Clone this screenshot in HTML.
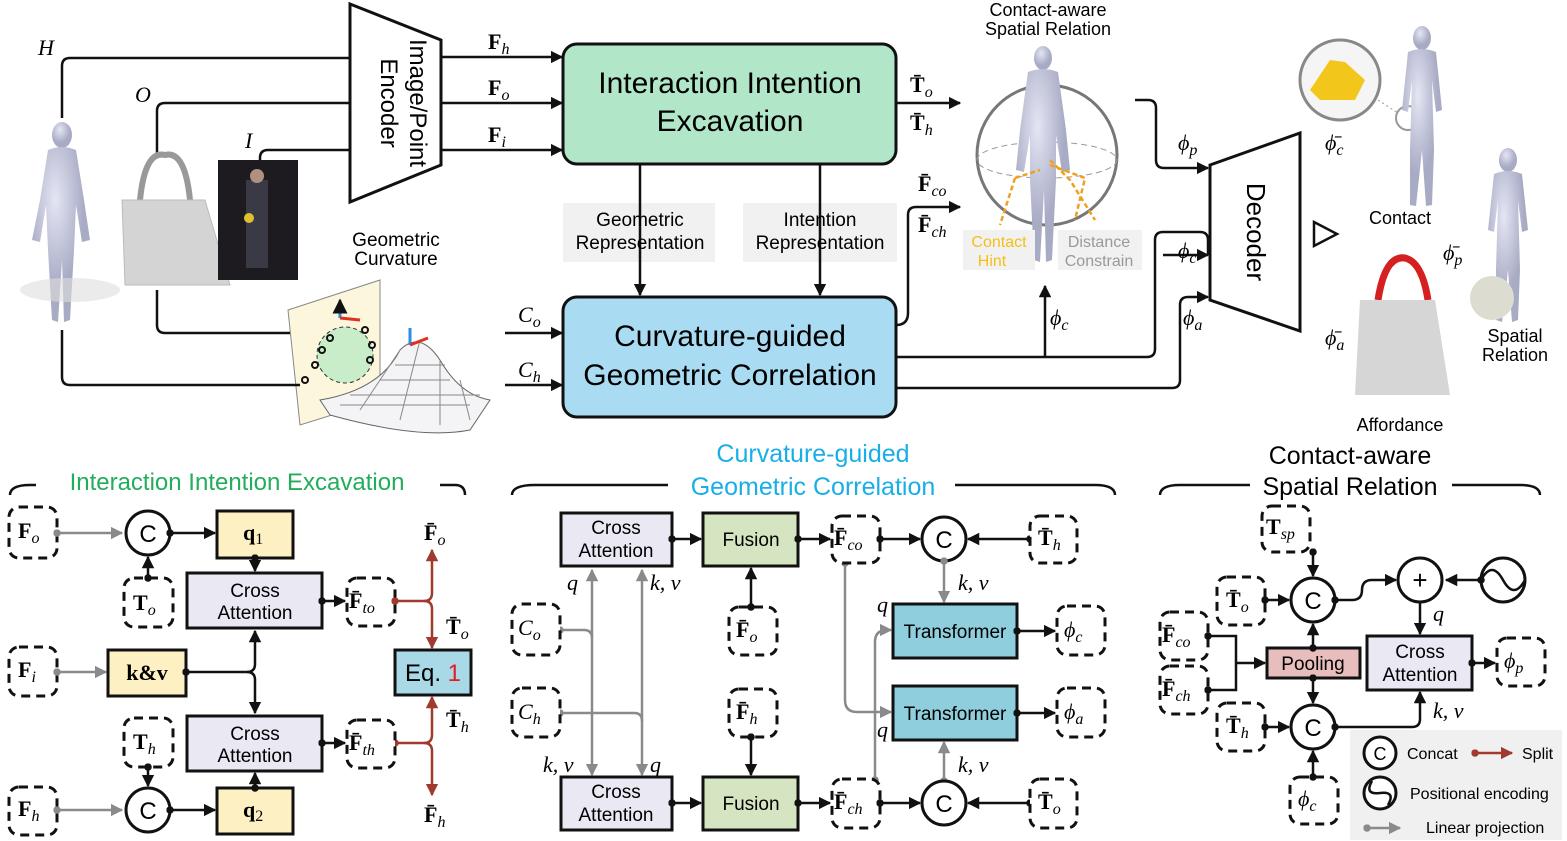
<!DOCTYPE html>
<html><head><meta charset="utf-8"><style>
html,body{margin:0;padding:0;background:#fff}
svg{display:block}
text{font-family:"Liberation Sans","DejaVu Sans",sans-serif}
.m{font-family:"Liberation Serif",serif;font-size:22px}
.b{font-weight:bold}
.s{font-style:italic;font-size:16px}
.t{font-size:19px;text-anchor:middle}
.bx{stroke:#111;stroke-width:3}
.dsh{fill:#fff;stroke:#111;stroke-width:3;stroke-dasharray:9 6}
.k{stroke:#111;stroke-width:2.5;fill:none}
.g{stroke:#8a8a8a;stroke-width:2.5;fill:none}
.r{stroke:#a0392e;stroke-width:2.5;fill:none}
</style></head><body>
<svg width="1567" height="841" viewBox="0 0 1567 841" xmlns="http://www.w3.org/2000/svg">
<defs>
<marker id="a" viewBox="0 0 10 10" refX="9" refY="5" markerWidth="5" markerHeight="5" orient="auto-start-reverse"><path d="M0,0L10,5L0,10z" fill="#111"/></marker>
<marker id="ag" viewBox="0 0 10 10" refX="9" refY="5" markerWidth="5" markerHeight="5" orient="auto-start-reverse"><path d="M0,0L10,5L0,10z" fill="#8a8a8a"/></marker>
<marker id="ar" viewBox="0 0 10 10" refX="9" refY="5" markerWidth="5" markerHeight="5" orient="auto-start-reverse"><path d="M0,0L10,5L0,10z" fill="#a0392e"/></marker>
<marker id="d" viewBox="0 0 10 10" refX="5" refY="5" markerWidth="3" markerHeight="3"><circle cx="5" cy="5" r="5" fill="#111"/></marker>
<marker id="dg" viewBox="0 0 10 10" refX="5" refY="5" markerWidth="3" markerHeight="3"><circle cx="5" cy="5" r="5" fill="#8a8a8a"/></marker>
<marker id="dr" viewBox="0 0 10 10" refX="5" refY="5" markerWidth="3" markerHeight="3"><circle cx="5" cy="5" r="5" fill="#a0392e"/></marker>
<radialGradient id="hum" cx="40%" cy="30%"><stop offset="0" stop-color="#e4e6f4"/><stop offset="1" stop-color="#a8abc4"/></radialGradient>
</defs>

<!-- ===== TOP ===== -->
<path class="k" d="M62,118V66Q62,58 70,58H350"/>
<path class="k" d="M157,155V111Q157,103 165,103H350"/>
<path class="k" d="M260,160V158Q260,150 268,150H350"/>
<text class="m" x="38" y="55" font-style="italic">H</text>
<text class="m" x="135" y="102" font-style="italic">O</text>
<text class="m" x="245" y="148" font-style="italic">I</text>
<g fill="url(#hum)">
<ellipse cx="62" cy="135" rx="10" ry="13"/>
<path d="M48,150Q62,144 76,150L84,200L90,240L82,242L76,205L74,250L70,320L64,322L62,260L58,322L52,320L48,250L46,205L40,242L32,240L40,200Z"/>
</g>
<ellipse cx="70" cy="290" rx="50" ry="12" fill="#ddd" opacity=".6"/>
<path d="M140,200Q145,150 165,155Q185,150 190,200" stroke="#999" stroke-width="6" fill="none"/>
<path d="M122,200H205L230,285H125Z" fill="#d4d4d4" stroke="#bbb"/>
<rect x="218" y="160" width="80" height="120" fill="#1d1b1f"/>
<rect x="246" y="180" width="22" height="88" fill="#3a3946"/>
<circle cx="257" cy="176" r="7" fill="#b09080"/>
<circle cx="249" cy="218" r="5" fill="#e0c030"/>
<path d="M350,4L441,40V165L350,202Z" fill="#fff" stroke="#111" stroke-width="3"/>
<text x="0" y="0" font-size="24" text-anchor="middle" transform="translate(410,103) rotate(90)">Image/Point</text>
<text x="0" y="0" font-size="24" text-anchor="middle" transform="translate(381,103) rotate(90)">Encoder</text>
<path class="k" d="M441,57H562" marker-end="url(#a)"/>
<path class="k" d="M441,103H562" marker-end="url(#a)"/>
<path class="k" d="M441,150H562" marker-end="url(#a)"/>
<text class="m" x="488" y="49"><tspan class="b">F</tspan><tspan class="s" dy="5">h</tspan></text>
<text class="m" x="488" y="95"><tspan class="b">F</tspan><tspan class="s" dy="5">o</tspan></text>
<text class="m" x="488" y="142"><tspan class="b">F</tspan><tspan class="s" dy="5">i</tspan></text>
<rect x="563" y="44" width="333" height="120" rx="14" fill="#b1e6c9" class="bx"/>
<text x="730" y="93" font-size="30" text-anchor="middle">Interaction Intention</text>
<text x="730" y="131" font-size="30" text-anchor="middle">Excavation</text>
<rect x="563" y="203" width="152" height="59" fill="#f1f1f1"/>
<rect x="743" y="203" width="154" height="59" fill="#f1f1f1"/>
<path class="k" d="M640,164V295" marker-end="url(#a)"/>
<path class="k" d="M820,164V295" marker-end="url(#a)"/>
<text class="t" x="640" y="226">Geometric</text><text class="t" x="640" y="249">Representation</text>
<text class="t" x="820" y="226">Intention</text><text class="t" x="820" y="249">Representation</text>
<text class="t" x="396" y="246">Geometric</text><text class="t" x="396" y="265">Curvature</text>
<path d="M288,310L380,280V400L300,425Z" fill="#fbf6dc" stroke="#888"/>
<circle cx="345" cy="355" r="28" fill="#c9ecc9" stroke="#333" stroke-dasharray="4 3"/>
<g fill="none" stroke="#111" stroke-width="2"><circle cx="305" cy="380" r="3"/><circle cx="315" cy="365" r="3"/><circle cx="322" cy="350" r="3"/><circle cx="330" cy="338" r="3"/><circle cx="365" cy="330" r="3"/><circle cx="372" cy="345" r="3"/><circle cx="370" cy="360" r="3"/></g>
<path d="M340,318V300" stroke="#2a8ee6" stroke-width="3" marker-end="url(#a)"/>
<path d="M340,318L360,320" stroke="#e03020" stroke-width="3"/>
<path d="M320,400Q380,390 400,350Q420,330 440,360Q460,395 490,400L470,430Q420,440 330,415Z" fill="#f4f4f6" stroke="#666"/>
<g stroke="#888" stroke-width="1"><path d="M340,405L470,405M350,395L480,395M380,380L450,380M395,365L445,365"/><path d="M360,410L400,350M400,420L420,340M440,425L440,360M470,420L460,380"/></g>
<path d="M410,345V328" stroke="#2a8ee6" stroke-width="3"/><path d="M410,345L428,338" stroke="#e03020" stroke-width="3"/>
<path class="k" d="M157,290V325Q157,333 165,333H290"/>
<path class="k" d="M62,330V377Q62,385 70,385H300"/>
<path class="k" d="M505,333H562" marker-end="url(#a)"/>
<path class="k" d="M505,385H562" marker-end="url(#a)"/>
<text class="m" x="518" y="322" font-style="italic">C<tspan class="s" dy="5">o</tspan></text>
<text class="m" x="518" y="377" font-style="italic">C<tspan class="s" dy="5">h</tspan></text>
<rect x="563" y="297" width="333" height="120" rx="14" fill="#a9dcf2" class="bx"/>
<text x="730" y="346" font-size="30" text-anchor="middle">Curvature-guided</text>
<text x="730" y="385" font-size="30" text-anchor="middle">Geometric Correlation</text>
<path class="k" d="M896,103H960" marker-end="url(#a)"/>
<text class="m" x="910" y="92"><tspan class="b">T̄</tspan><tspan class="s" dy="5">o</tspan></text>
<text class="m" x="910" y="130"><tspan class="b">T̄</tspan><tspan class="s" dy="5">h</tspan></text>
<path class="k" d="M896,325Q908,325 908,313V215Q908,207 916,207H960" marker-end="url(#a)"/>
<text class="m" x="918" y="191"><tspan class="b">F̄</tspan><tspan class="s" dy="5">co</tspan></text>
<text class="m" x="918" y="232"><tspan class="b">F̄</tspan><tspan class="s" dy="5">ch</tspan></text>
<text x="1048" y="16" font-size="18" text-anchor="middle">Contact-aware</text>
<text x="1048" y="35" font-size="18" text-anchor="middle">Spatial Relation</text>
<circle cx="1047" cy="155" r="70" fill="none" stroke="#777" stroke-width="3"/>
<ellipse cx="1047" cy="160" rx="70" ry="18" fill="none" stroke="#999" stroke-dasharray="6 4"/>
<g fill="url(#hum)"><ellipse cx="1043" cy="58" rx="9" ry="12"/><path d="M1028,72Q1043,66 1058,72L1066,130L1070,170L1062,172L1056,135L1056,180L1052,260L1046,262L1044,190L1040,262L1034,260L1030,180L1030,135L1024,172L1016,170L1020,130Z"/></g>
<path d="M1015,178L1000,225M1015,178L1040,170M1050,160L1070,180L1095,220M1050,165L1085,178L1075,220" stroke="#f0a020" stroke-width="2.5" fill="none" stroke-dasharray="5 3"/>
<rect x="963" y="230" width="72" height="40" fill="#f1f1f1"/>
<rect x="1058" y="230" width="84" height="40" fill="#f1f1f1"/>
<text x="999" y="247" font-size="16" text-anchor="middle" fill="#f3c01a">Contact</text><text x="992" y="266" font-size="16" text-anchor="middle" fill="#f3c01a">Hint</text>
<text x="1099" y="247" font-size="16" text-anchor="middle" fill="#999">Distance</text><text x="1099" y="266" font-size="16" text-anchor="middle" fill="#999">Constrain</text>
<path class="k" d="M896,357H1147Q1155,357 1155,349V240Q1155,232 1163,232H1200Q1208,232 1208,240V255" />
<path class="k" d="M1045,357V286" marker-end="url(#a)"/>
<text class="m" x="1050" y="325" font-style="italic">ϕ<tspan class="s" dy="5">c</tspan></text>
<path class="k" d="M896,388H1172Q1180,388 1180,380V305Q1180,297 1188,297H1208" marker-end="url(#a)"/>
<path class="k" d="M1135,100H1148Q1156,100 1156,108V160Q1156,168 1164,168H1208" marker-end="url(#a)"/>
<path class="k" d="M1163,255H1208" marker-end="url(#a)"/>
<text class="m" x="1178" y="150" font-style="italic">ϕ<tspan class="s" dy="5">p</tspan></text>
<text class="m" x="1178" y="258" font-style="italic">ϕ<tspan class="s" dy="5">c</tspan></text>
<text class="m" x="1183" y="325" font-style="italic">ϕ<tspan class="s" dy="5">a</tspan></text>
<path d="M1210,165L1300,133V331L1210,300Z" fill="#fff" stroke="#111" stroke-width="3"/>
<text x="0" y="0" font-size="26" text-anchor="middle" transform="translate(1247,232) rotate(90)">Decoder</text>
<path d="M1314,222L1337,234L1314,246Z" fill="none" stroke="#111" stroke-width="2.5"/>
<circle cx="1340" cy="80" r="40" fill="#f5f5f5" stroke="#888" stroke-width="3"/>
<path d="M1310,90L1330,60L1345,62L1365,80L1355,100L1320,100Z" fill="#f2c61a"/>
<circle cx="1408" cy="118" r="12" fill="none" stroke="#999" stroke-width="2"/>
<path d="M1378,100L1398,113" stroke="#999" stroke-dasharray="2 3"/>
<g fill="url(#hum)"><ellipse cx="1422" cy="38" rx="9" ry="12"/><path d="M1408,52Q1422,46 1436,52L1442,110L1436,112L1432,80L1434,150L1432,205L1426,206L1422,150L1416,206L1410,205L1410,150L1412,80L1408,112L1402,110Z"/></g>
<text x="1400" y="224" font-size="18" text-anchor="middle">Contact</text>
<text class="m" x="1325" y="150" font-style="italic">ϕ̄<tspan class="s" dy="5">c</tspan></text>
<g fill="url(#hum)"><ellipse cx="1508" cy="160" rx="9" ry="12"/><path d="M1494,174Q1508,168 1522,174L1528,230L1522,232L1518,200L1520,270L1518,320L1512,322L1508,270L1502,322L1496,320L1496,270L1498,200L1494,232L1488,230Z"/></g>
<circle cx="1492" cy="298" r="22" fill="#dcdcd0"/>
<text x="1515" y="342" font-size="18" text-anchor="middle">Spatial</text><text x="1515" y="361" font-size="18" text-anchor="middle">Relation</text>
<text class="m" x="1443" y="260" font-style="italic">ϕ̄<tspan class="s" dy="5">p</tspan></text>
<path d="M1378,300Q1385,255 1405,258Q1422,262 1428,300" stroke="#d42020" stroke-width="7" fill="none"/>
<path d="M1360,300H1435L1450,395H1355Z" fill="#d6d6d6"/>
<text class="m" x="1325" y="345" font-style="italic">ϕ̄<tspan class="s" dy="5">a</tspan></text>
<text x="1400" y="431" font-size="18" text-anchor="middle">Affordance</text>

<!-- ===== BOTTOM TITLES ===== -->
<text x="237" y="490" font-size="24" text-anchor="middle" fill="#22ad5c">Interaction Intention Excavation</text>
<path class="k" d="M10,495Q10,485 30,485H36M440,485H455Q465,485 465,495"/>
<text x="813" y="462" font-size="25" text-anchor="middle" fill="#19aee6">Curvature-guided</text>
<text x="813" y="495" font-size="25" text-anchor="middle" fill="#19aee6">Geometric Correlation</text>
<path class="k" d="M512,495Q512,485 535,485H668M955,485H1095Q1115,485 1115,495"/>
<text x="1350" y="464" font-size="25" text-anchor="middle">Contact-aware</text>
<text x="1350" y="495" font-size="25" text-anchor="middle">Spatial Relation</text>
<path class="k" d="M1160,495Q1160,485 1180,485H1250M1452,485H1520Q1540,485 1540,495"/>

<!-- ===== LEFT SECTION ===== -->
<rect class="dsh" x="9" y="507" width="48" height="51" rx="10"/>
<text class="m" x="18" y="538"><tspan class="b">F</tspan><tspan class="s" dy="5">o</tspan></text>
<path class="g" d="M57,533H122" marker-start="url(#dg)" marker-end="url(#ag)"/>
<circle cx="148" cy="533" r="22" fill="#fff" class="bx"/><text x="148" y="542" font-size="24" text-anchor="middle">C</text>
<path class="k" d="M170,533H215" marker-start="url(#d)" marker-end="url(#a)"/>
<rect x="217" y="511" width="76" height="47" fill="#fdf0c3" class="bx"/>
<text class="m" x="243" y="540"><tspan class="b">q</tspan><tspan font-size="16" dy="4">1</tspan></text>
<path class="k" d="M255,558V571" marker-start="url(#d)" marker-end="url(#a)"/>
<rect class="dsh" x="124" y="578" width="49" height="49" rx="10"/>
<text class="m" x="133" y="610"><tspan class="b">T</tspan><tspan class="s" dy="5">o</tspan></text>
<path class="k" d="M148,578V557" marker-start="url(#d)" marker-end="url(#a)"/>
<rect x="187" y="573" width="135" height="55" fill="#e9e8f3" class="bx"/>
<text class="t" x="255" y="597">Cross</text><text class="t" x="255" y="619">Attention</text>
<path class="k" d="M322,601H345" marker-start="url(#d)" marker-end="url(#a)"/>
<rect class="dsh" x="347" y="578" width="48" height="48" rx="10"/>
<text class="m" x="349" y="608"><tspan class="b">F̄</tspan><tspan class="s" dy="5">to</tspan></text>
<path class="r" d="M395,601H424Q432,601 432,593V550" marker-start="url(#dr)" marker-end="url(#ar)"/>
<path class="r" d="M424,601Q432,601 432,609V648" marker-end="url(#ar)"/>
<text class="m" x="424" y="540"><tspan class="b">F̄</tspan><tspan class="s" dy="5">o</tspan></text>
<text class="m" x="446" y="634"><tspan class="b">T̄</tspan><tspan class="s" dy="5">o</tspan></text>
<rect x="395" y="650" width="76" height="45" fill="#a9d8e7" class="bx"/>
<text x="433" y="681" font-family="Liberation Serif,serif" font-size="24" text-anchor="middle">Eq. <tspan fill="#e02020">1</tspan></text>
<path class="r" d="M395,743H424Q432,743 432,735V697" marker-start="url(#dr)" marker-end="url(#ar)"/>
<path class="r" d="M424,743Q432,743 432,751V795" marker-end="url(#ar)"/>
<text class="m" x="446" y="727"><tspan class="b">T̄</tspan><tspan class="s" dy="5">h</tspan></text>
<text class="m" x="424" y="822"><tspan class="b">F̄</tspan><tspan class="s" dy="5">h</tspan></text>

<rect class="dsh" x="9" y="647" width="48" height="49" rx="10"/>
<text class="m" x="18" y="677"><tspan class="b">F</tspan><tspan class="s" dy="5">i</tspan></text>
<path class="g" d="M57,672H106" marker-start="url(#dg)" marker-end="url(#ag)"/>
<rect x="108" y="650" width="78" height="46" fill="#fdf0c3" class="bx"/>
<text class="m b" x="147" y="680" text-anchor="middle">k&amp;v</text>
<path class="k" d="M186,672H247Q255,672 255,664V631" marker-start="url(#d)" marker-end="url(#a)"/>
<path class="k" d="M247,672Q255,672 255,680V713" marker-end="url(#a)"/>
<rect x="187" y="716" width="135" height="55" fill="#e9e8f3" class="bx"/>
<text class="t" x="255" y="740">Cross</text><text class="t" x="255" y="762">Attention</text>
<path class="k" d="M322,743H345" marker-start="url(#d)" marker-end="url(#a)"/>
<rect class="dsh" x="347" y="720" width="48" height="48" rx="10"/>
<text class="m" x="349" y="750"><tspan class="b">F̄</tspan><tspan class="s" dy="5">th</tspan></text>
<rect class="dsh" x="124" y="718" width="49" height="49" rx="10"/>
<text class="m" x="133" y="749"><tspan class="b">T</tspan><tspan class="s" dy="5">h</tspan></text>
<path class="k" d="M148,767V786" marker-start="url(#d)" marker-end="url(#a)"/>
<circle cx="148" cy="810" r="22" fill="#fff" class="bx"/><text x="148" y="819" font-size="24" text-anchor="middle">C</text>
<rect class="dsh" x="9" y="787" width="48" height="48" rx="10"/>
<text class="m" x="18" y="816"><tspan class="b">F</tspan><tspan class="s" dy="5">h</tspan></text>
<path class="g" d="M57,810H122" marker-start="url(#dg)" marker-end="url(#ag)"/>
<path class="k" d="M170,810H215" marker-start="url(#d)" marker-end="url(#a)"/>
<rect x="217" y="788" width="76" height="46" fill="#fdf0c3" class="bx"/>
<text class="m" x="243" y="817"><tspan class="b">q</tspan><tspan font-size="16" dy="4">2</tspan></text>
<path class="k" d="M255,788V773" marker-start="url(#d)" marker-end="url(#a)"/>

<!-- ===== MIDDLE SECTION ===== -->
<path class="g" d="M592,570V775" marker-start="url(#ag)" marker-end="url(#ag)"/>
<path class="g" d="M642,570V775" marker-start="url(#ag)" marker-end="url(#ag)"/>
<path class="g" d="M560,630H584Q592,630 592,638" marker-start="url(#dg)"/>
<path class="g" d="M560,713H634Q642,713 642,721" marker-start="url(#dg)"/>
<rect x="561" y="513" width="111" height="53" fill="#e9e8f3" class="bx"/>
<text class="t" x="616" y="534">Cross</text><text class="t" x="616" y="557">Attention</text>
<path class="k" d="M672,539H701" marker-start="url(#d)" marker-end="url(#a)"/>
<rect x="703" y="513" width="95" height="53" fill="#d5e5c1" class="bx"/>
<text class="t" x="751" y="546">Fusion</text>
<path class="k" d="M798,539H830" marker-start="url(#d)" marker-end="url(#a)"/>
<path class="g" d="M845,563V700Q845,712 857,712H891" marker-start="url(#dg)" marker-end="url(#ag)"/>
<path class="g" d="M875,780V642Q875,630 887,630H891" marker-start="url(#dg)" marker-end="url(#ag)"/>
<rect class="dsh" x="832" y="516" width="48" height="47" rx="10"/>
<text class="m" x="834" y="545"><tspan class="b">F̄</tspan><tspan class="s" dy="5">co</tspan></text>
<path class="k" d="M880,539H920" marker-start="url(#d)" marker-end="url(#a)"/>
<circle cx="944" cy="539" r="22" fill="#fff" class="bx"/><text x="944" y="548" font-size="24" text-anchor="middle">C</text>
<path class="k" d="M1030,539H968" marker-start="url(#d)" marker-end="url(#a)"/>
<rect class="dsh" x="1030" y="516" width="47" height="47" rx="10"/>
<text class="m" x="1038" y="545"><tspan class="b">T̄</tspan><tspan class="s" dy="5">h</tspan></text>
<path class="g" d="M944,561V602" marker-start="url(#dg)" marker-end="url(#ag)"/>
<text class="m" x="958" y="590" font-style="italic">k, v</text>
<rect class="dsh" x="729" y="607" width="48" height="48" rx="10"/>
<text class="m" x="736" y="637"><tspan class="b">F̄</tspan><tspan class="s" dy="5">o</tspan></text>
<path class="k" d="M751,607V568" marker-start="url(#d)" marker-end="url(#a)"/>
<rect class="dsh" x="512" y="604" width="48" height="51" rx="10"/>
<text class="m" x="518" y="635" font-style="italic">C<tspan class="s" dy="5">o</tspan></text>
<rect class="dsh" x="512" y="688" width="48" height="49" rx="10"/>
<text class="m" x="518" y="719" font-style="italic">C<tspan class="s" dy="5">h</tspan></text>
<text class="m" x="567" y="590" font-style="italic">q</text>
<text class="m" x="650" y="590" font-style="italic">k, v</text>
<text class="m" x="543" y="772" font-style="italic">k, v</text>
<text class="m" x="650" y="772" font-style="italic">q</text>
<rect x="893" y="604" width="124" height="54" fill="#8fcfdd" class="bx"/>
<text x="955" y="638" font-size="19" text-anchor="middle">Transformer</text>
<path class="k" d="M1017,631H1055" marker-start="url(#d)" marker-end="url(#a)"/>
<rect class="dsh" x="1057" y="606" width="48" height="49" rx="10"/>
<text class="m" x="1064" y="637" font-style="italic">ϕ<tspan class="s" dy="5">c</tspan></text>
<rect x="893" y="686" width="124" height="54" fill="#8fcfdd" class="bx"/>
<text x="955" y="720" font-size="19" text-anchor="middle">Transformer</text>
<path class="k" d="M1017,713H1055" marker-start="url(#d)" marker-end="url(#a)"/>
<rect class="dsh" x="1057" y="688" width="48" height="49" rx="10"/>
<text class="m" x="1064" y="719" font-style="italic">ϕ<tspan class="s" dy="5">a</tspan></text>
<text class="m" x="877" y="612" font-style="italic">q</text>
<text class="m" x="877" y="737" font-style="italic">q</text>
<path class="g" d="M944,781V742" marker-start="url(#dg)" marker-end="url(#ag)"/>
<text class="m" x="958" y="772" font-style="italic">k, v</text>
<rect class="dsh" x="729" y="689" width="48" height="48" rx="10"/>
<text class="m" x="736" y="719"><tspan class="b">F̄</tspan><tspan class="s" dy="5">h</tspan></text>
<path class="k" d="M751,737V775" marker-start="url(#d)" marker-end="url(#a)"/>
<rect x="561" y="777" width="111" height="53" fill="#e9e8f3" class="bx"/>
<text class="t" x="616" y="798">Cross</text><text class="t" x="616" y="821">Attention</text>
<path class="k" d="M672,803H701" marker-start="url(#d)" marker-end="url(#a)"/>
<rect x="703" y="777" width="95" height="53" fill="#d5e5c1" class="bx"/>
<text class="t" x="751" y="810">Fusion</text>
<path class="k" d="M798,803H830" marker-start="url(#d)" marker-end="url(#a)"/>
<rect class="dsh" x="832" y="779" width="48" height="49" rx="10"/>
<text class="m" x="834" y="809"><tspan class="b">F̄</tspan><tspan class="s" dy="5">ch</tspan></text>
<path class="k" d="M880,803H920" marker-start="url(#d)" marker-end="url(#a)"/>
<circle cx="944" cy="803" r="22" fill="#fff" class="bx"/><text x="944" y="812" font-size="24" text-anchor="middle">C</text>
<path class="k" d="M1030,803H968" marker-start="url(#d)" marker-end="url(#a)"/>
<rect class="dsh" x="1030" y="779" width="47" height="49" rx="10"/>
<text class="m" x="1038" y="809"><tspan class="b">T̄</tspan><tspan class="s" dy="5">o</tspan></text>

<!-- ===== RIGHT SECTION ===== -->
<rect x="1350" y="730" width="212" height="110" fill="#f0f0f0"/>
<rect class="dsh" x="1262" y="506" width="48" height="46" rx="10"/>
<text class="m" x="1266" y="534"><tspan class="b">T</tspan><tspan class="s" dy="5">sp</tspan></text>
<path class="k" d="M1313,552V576" marker-start="url(#d)" marker-end="url(#a)"/>
<circle cx="1313" cy="600" r="22" fill="#fff" class="bx"/><text x="1313" y="609" font-size="24" text-anchor="middle">C</text>
<rect class="dsh" x="1217" y="577" width="48" height="48" rx="10"/>
<text class="m" x="1226" y="607"><tspan class="b">T̄</tspan><tspan class="s" dy="5">o</tspan></text>
<path class="k" d="M1265,600H1289" marker-start="url(#d)" marker-end="url(#a)"/>
<path class="k" d="M1335,600H1352Q1362,600 1362,590Q1362,580 1372,580H1396" marker-start="url(#d)" marker-end="url(#a)"/>
<circle cx="1420" cy="580" r="22" fill="#fff" class="bx"/><text x="1420" y="589" font-size="26" text-anchor="middle">+</text>
<circle cx="1503" cy="580" r="22" fill="#fff" class="bx"/>
<path d="M1481,580Q1492,560 1503,580Q1514,600 1525,580" stroke="#111" stroke-width="2.5" fill="none"/>
<path class="k" d="M1481,580H1446" marker-start="url(#d)" marker-end="url(#a)"/>
<path class="k" d="M1420,602V634" marker-end="url(#a)"/>
<text class="m" x="1433" y="621" font-style="italic">q</text>
<rect class="dsh" x="1160" y="612" width="48" height="48" rx="10"/>
<text class="m" x="1162" y="642"><tspan class="b">F̄</tspan><tspan class="s" dy="5">co</tspan></text>
<rect class="dsh" x="1160" y="666" width="48" height="48" rx="10"/>
<text class="m" x="1162" y="696"><tspan class="b">F̄</tspan><tspan class="s" dy="5">ch</tspan></text>
<path class="k" d="M1208,636H1236V690H1208" marker-start="url(#d)" marker-end="url(#d)"/>
<path class="k" d="M1236,663H1265" marker-end="url(#a)"/>
<rect x="1267" y="648" width="93" height="30" fill="#e8bdbd" class="bx"/>
<text class="t" x="1313" y="670">Pooling</text>
<path class="k" d="M1313,648V624" marker-start="url(#d)" marker-end="url(#a)"/>
<path class="k" d="M1313,678V703" marker-start="url(#d)" marker-end="url(#a)"/>
<rect x="1367" y="636" width="105" height="54" fill="#e9e8f3" class="bx"/>
<text class="t" x="1420" y="658">Cross</text><text class="t" x="1420" y="681">Attention</text>
<path class="k" d="M1472,663H1495" marker-start="url(#d)" marker-end="url(#a)"/>
<rect class="dsh" x="1497" y="638" width="48" height="48" rx="10"/>
<text class="m" x="1504" y="668" font-style="italic">ϕ<tspan class="s" dy="5">p</tspan></text>
<rect class="dsh" x="1217" y="703" width="48" height="48" rx="10"/>
<text class="m" x="1226" y="733"><tspan class="b">T̄</tspan><tspan class="s" dy="5">h</tspan></text>
<path class="k" d="M1265,727H1289" marker-start="url(#d)" marker-end="url(#a)"/>
<circle cx="1313" cy="727" r="22" fill="#fff" class="bx"/><text x="1313" y="736" font-size="24" text-anchor="middle">C</text>
<path class="k" d="M1335,727H1412Q1420,727 1420,719V692" marker-start="url(#d)" marker-end="url(#a)"/>
<text class="m" x="1433" y="718" font-style="italic">k, v</text>
<rect class="dsh" x="1290" y="777" width="48" height="47" rx="10"/>
<text class="m" x="1298" y="806" font-style="italic">ϕ<tspan class="s" dy="5">c</tspan></text>
<path class="k" d="M1313,777V751" marker-start="url(#d)" marker-end="url(#a)"/>
<circle cx="1380" cy="753" r="16" fill="#fff" class="bx"/><text x="1380" y="760" font-size="18" text-anchor="middle">C</text>
<text x="1407" y="759" font-size="16">Concat</text>
<path class="r" d="M1475,753H1512" marker-start="url(#dr)" marker-end="url(#ar)"/>
<text x="1522" y="759" font-size="16">Split</text>
<circle cx="1380" cy="793" r="16" fill="#fff" class="bx"/>
<path d="M1372,781Q1364,795 1380,793Q1396,791 1388,805" stroke="#111" stroke-width="2.5" fill="none"/>
<text x="1410" y="799" font-size="16">Positional encoding</text>
<path class="g" d="M1367,828H1400" marker-start="url(#dg)" marker-end="url(#ag)"/>
<text x="1426" y="833" font-size="16">Linear projection</text>
</svg>
</body></html>
